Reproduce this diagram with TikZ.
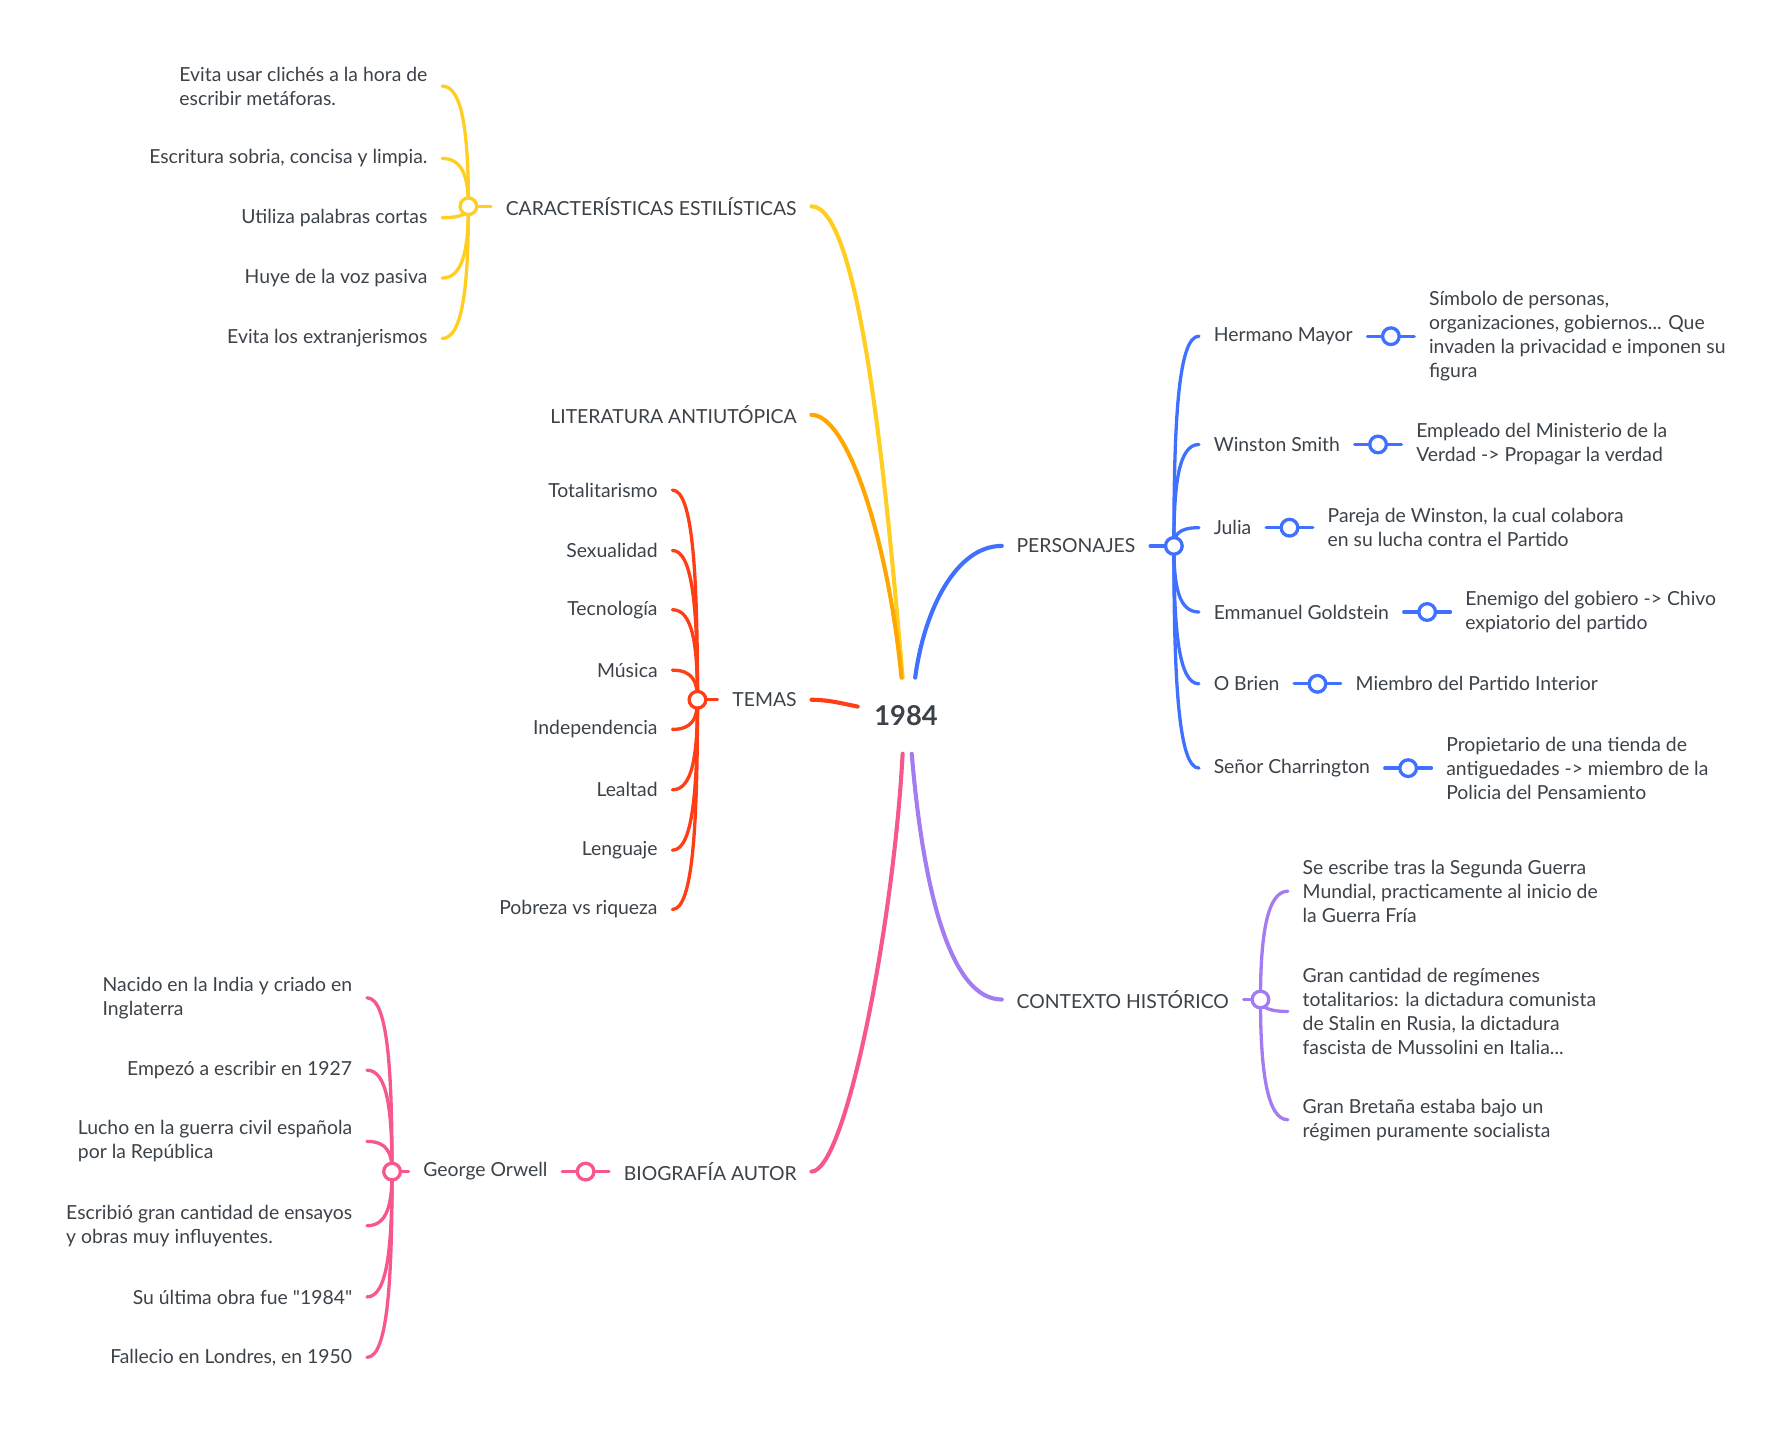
\documentclass[tikz,border=0pt]{standalone}
\usepackage{fontspec}
\setmainfont{Lato}[Ligatures=TeXOff]
\usetikzlibrary{positioning,backgrounds}
\definecolor{inkgray}{RGB}{60,66,73}
\definecolor{sunyellow}{RGB}{255,206,32}
\definecolor{amber}{RGB}{255,166,0}
\definecolor{tomato}{RGB}{255,62,22}
\definecolor{royalblue}{RGB}{64,112,255}
\definecolor{lavender}{RGB}{162,124,240}
\definecolor{rosepink}{RGB}{246,88,140}

\tikzset{
  txt/.style={font=\fontsize{8.5}{10.5}\selectfont, text=inkgray, inner xsep=6.3pt, inner ysep=0pt, align=left},
  hub/.style={circle, draw=#1, fill=white, line width=1.45pt, minimum size=7.3pt, inner sep=0pt, outer sep=0pt},
  twig/.style={line width=1.45pt, line cap=round},
  limb/.style={line width=1.8pt, line cap=round}
}

\begin{document}
\begin{tikzpicture}[x=0.5pt,y=-0.5pt]
  \useasboundingbox (0,0) rectangle (1568,1258);

  % centre and main topics
  \node[font=\bfseries\fontsize{12}{14}\selectfont, text=inkgray, minimum width=42pt, minimum height=33pt, inner sep=0pt] (core) at (795,628) {1984};
  \node[txt, anchor=east] (estilo) at (712,181) {CARACTERÍSTICAS ESTILÍSTICAS};
  \node[txt, anchor=east] (antiu) at (712,364) {LITERATURA ANTIUTÓPICA};
  \node[txt, anchor=east] (temas) at (712,614) {TEMAS};
  \node[txt, anchor=east] (bio) at (712,1028) {BIOGRAFÍA AUTOR};
  \node[txt, anchor=west] (perso) at (879,479) {PERSONAJES};
  \node[txt, anchor=west] (contexto) at (879,877) {CONTEXTO HISTÓRICO};

  % hubs
  \node[hub=sunyellow] (hubE) at (411,181) {};
  \node[hub=tomato] (hubT) at (612,614) {};
  \node[hub=royalblue] (hubP) at (1030,479) {};
  \node[hub=lavender] (hubC) at (1106,877) {};
  \node[hub=rosepink] (hubO) at (344,1028) {};
  \node[hub=rosepink, left=6.6pt of bio] (biodot) {};
  \node[txt, left=6.6pt of biodot] (orwell) {George Orwell};

  \begin{scope}[on background layer]
    \draw[limb, sunyellow] ([xshift=-1.5pt]core.north) .. controls +(-14,-165) and +(43,0) .. (estilo.east);
    \draw[limb, amber] ([xshift=-2pt]core.north) .. controls +(-11,-115) and +(33,0) .. (antiu.east);
    \draw[limb, tomato] ([yshift=4pt]core.west) .. controls +(-15,-3) and +(15,0) .. (temas.east);
    \draw[limb, royalblue] ([xshift=4pt]core.north) .. controls +(8,-60) and +(-40,0) .. (perso.west);
    \draw[limb, lavender] ([xshift=2.5pt]core.south) .. controls +(10,120) and +(-45,0) .. (contexto.west);
    \draw[limb, rosepink] ([xshift=-1.5pt]core.south) .. controls +(-8,150) and +(30,0) .. (bio.east);
    \draw[twig, sunyellow] (hubE) -- (estilo.west);
    \draw[twig, tomato] (hubT) -- (temas.west);
    \draw[twig, royalblue] (hubP) -- (perso.east);
    \draw[twig, lavender] (hubC) -- (contexto.east);
    \draw[twig, rosepink] (hubO) -- (orwell.west);
    \draw[twig, rosepink] (orwell.east) -- (bio.west);
  \end{scope}

  % estilo
  \foreach \y/\lbl [count=\i] in {75.5/{Evita usar clichés a la hora de\\escribir metáforas.}, 139/{Escritura sobria, concisa y limpia.}, 191/Utiliza palabras cortas, 244/Huye de la voz pasiva, 297/Evita los extranjerismos}{
    \node[txt, anchor=east] (estilo\i) at (388,\y) {\lbl};
    \pgfmathsetmacro\reach{0.6*(\y-181)}
    \begin{scope}[on background layer]
      \draw[twig, sunyellow] (hubE.center) .. controls +(0,\reach) and +(18,0) .. (estilo\i.east);
    \end{scope}
  }

  % temas
  \foreach \y/\lbl [count=\i] in {430/Totalitarismo, 483/Sexualidad, 535/Tecnología, 588/Música, 640/Independencia, 693/Lealtad, 746/Lenguaje, 798/Pobreza vs riqueza}{
    \node[txt, anchor=east] (tema\i) at (590,\y) {\lbl};
    \pgfmathsetmacro\reach{0.6*(\y-614)}
    \begin{scope}[on background layer]
      \draw[twig, tomato] (hubT.center) .. controls +(0,\reach) and +(18,0) .. (tema\i.east);
    \end{scope}
  }

  % orwell
  \foreach \y/\lbl [count=\i] in {875.5/{Nacido en la India y criado en\\Inglaterra}, 939/Empezó a escribir en 1927, 1001.5/{Lucho en la guerra civil española\\por la República}, 1075.5/{Escribió gran cantidad de ensayos\\y obras muy influyentes.}, 1138/Su última obra fue "1984", 1191/{Fallecio en Londres, en 1950}}{
    \node[txt, anchor=east] (vida\i) at (322,\y) {\lbl};
    \pgfmathsetmacro\reach{0.6*(\y-1028)}
    \begin{scope}[on background layer]
      \draw[twig, rosepink] (hubO.center) .. controls +(0,\reach) and +(18,0) .. (vida\i.east);
    \end{scope}
  }

  % personajes
  \foreach \y/\who/\desc [count=\i] in {295/Hermano Mayor/{Símbolo de personas,\\organizaciones, gobiernos... Que\\invaden la privacidad e imponen su\\figura}, 390/Winston Smith/{Empleado del Ministerio de la\\Verdad -> Propagar la verdad}, 463/Julia/{Pareja de Winston, la cual colabora\\en su lucha contra el Partido}, 537/Emmanuel Goldstein/{Enemigo del gobiero -> Chivo\\expiatorio del partido}, 600/O Brien/Miembro del Partido Interior, 674/Señor Charrington/{Propietario de una tienda de\\antiguedades -> miembro de la\\Policia del Pensamiento}}{
    \node[txt, anchor=west] (pj\i) at (1052,\y) {\who};
    \node[hub=royalblue, right=6.6pt of pj\i] (pjdot\i) {};
    \node[txt, right=6.6pt of pjdot\i] (pjdesc\i) {\desc};
    \pgfmathsetmacro\reach{0.6*(\y-479)}
    \begin{scope}[on background layer]
      \draw[twig, royalblue] (hubP.center) .. controls +(0,\reach) and +(-18,0) .. (pj\i.west);
      \draw[twig, royalblue] (pj\i.east) -- (pjdesc\i.west);
    \end{scope}
  }

  % contexto
  \foreach \y/\lbl [count=\i] in {782/{Se escribe tras la Segunda Guerra\\Mundial, practicamente al inicio de\\la Guerra Fría}, 887.5/{Gran cantidad de regímenes\\totalitarios: la dictadura comunista\\de Stalin en Rusia, la dictadura\\fascista de Mussolini en Italia...}, 982.5/{Gran Bretaña estaba bajo un\\régimen puramente socialista}}{
    \node[txt, anchor=west] (ctx\i) at (1130,\y) {\lbl};
    \pgfmathsetmacro\reach{0.6*(\y-877)}
    \begin{scope}[on background layer]
      \draw[twig, lavender] (hubC.center) .. controls +(0,\reach) and +(-18,0) .. (ctx\i.west);
    \end{scope}
  }
\end{tikzpicture}
\end{document}
